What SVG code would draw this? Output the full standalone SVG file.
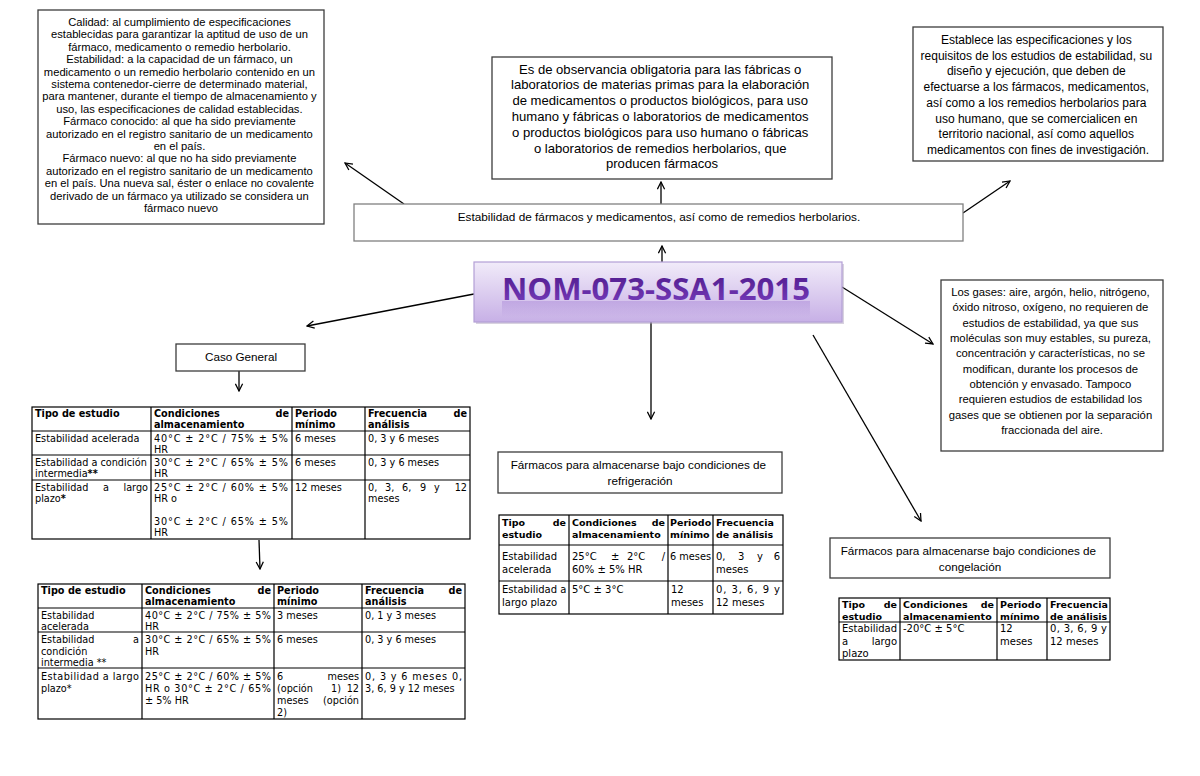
<svg xmlns="http://www.w3.org/2000/svg" width="1200" height="776" viewBox="0 0 1200 776">
<defs>
<style>
.bx{fill:#fff;stroke:#3c3c3c;stroke-width:1.3}
.t{font-family:"Liberation Sans",Arial,sans-serif;fill:#000;text-anchor:middle}
.tv{font-family:"DejaVu Sans",Verdana,sans-serif;font-size:9.7px;fill:#000}
.tw{font-family:"DejaVu Sans",Verdana,sans-serif;font-size:10px;fill:#000}
.b{font-weight:bold}
.h{font-weight:bold;font-size:9.5px}
.e{text-anchor:end}
.grid{stroke:#000;stroke-width:1.2;fill:none}
.cn{stroke:#000;stroke-width:1.3;fill:none;marker-end:url(#ah)}
</style>
<marker id="ah" viewBox="0 0 10 10" refX="9" refY="5" markerWidth="9" markerHeight="9" markerUnits="userSpaceOnUse" orient="auto">
<path d="M1,1 L9,5 L1,9" fill="none" stroke="#000" stroke-width="1.4"/>
</marker>
<linearGradient id="nomBg" x1="0" y1="0" x2="0" y2="1">
<stop offset="0" stop-color="#f1ebf9"/>
<stop offset="1" stop-color="#c7b0e6"/>
</linearGradient>
<linearGradient id="nomTx" x1="0" y1="0" x2="0" y2="1">
<stop offset="0" stop-color="#4a1685"/>
<stop offset="1" stop-color="#7a3fc0"/>
</linearGradient>
<linearGradient id="refl" x1="0" y1="0" x2="0" y2="1">
<stop offset="0" stop-color="#8a5cc8" stop-opacity="0.28"/>
<stop offset="1" stop-color="#8a5cc8" stop-opacity="0"/>
</linearGradient>
</defs>

<rect width="1200" height="776" fill="#fff"/>

<g id="connectors">
<path class="cn" d="M404,204 L345,163"/>
<path class="cn" d="M963,213 L1010,181"/>
<path class="cn" d="M662,262 L662,246"/>
<path class="cn" d="M661,204 L661,182"/>
<path class="cn" d="M474,294 L307,326"/>
<path class="cn" d="M842,287 L933,344"/>
<path class="cn" d="M813,335 L921,521"/>
<path class="cn" d="M651,322 L651,419"/>
<path class="cn" d="M239,371 L239,391"/>
<path class="cn" d="M259,540 L260,569"/>
</g>

<g id="definiciones">
<rect class="bx" x="38" y="10" width="286" height="214"/>
<text class="t" font-size="11.2">
<tspan x="181" y="26">Calidad: al cumplimiento de especificaciones</tspan>
<tspan x="181" y="38.4">establecidas para garantizar la aptitud de uso de un</tspan>
<tspan x="181" y="50.8">fármaco, medicamento o remedio herbolario.</tspan>
<tspan x="181" y="63.2">Estabilidad: a la capacidad de un fármaco, un</tspan>
<tspan x="181" y="75.6">medicamento o un remedio herbolario contenido en un</tspan>
<tspan x="181" y="88">sistema contenedor-cierre de determinado material,</tspan>
<tspan x="181" y="100.4">para mantener, durante el tiempo de almacenamiento y</tspan>
<tspan x="181" y="112.8">uso, las especificaciones de calidad establecidas.</tspan>
<tspan x="181" y="125.2">Fármaco conocido: al que ha sido previamente</tspan>
<tspan x="181" y="137.6">autorizado en el registro sanitario de un medicamento</tspan>
<tspan x="181" y="150">en el país.</tspan>
<tspan x="181" y="162.4">Fármaco nuevo: al que no ha sido previamente</tspan>
<tspan x="181" y="174.8">autorizado en el registro sanitario de un medicamento</tspan>
<tspan x="181" y="187.2">en el país. Una nueva sal, éster o enlace no covalente</tspan>
<tspan x="181" y="199.6">derivado de un fármaco ya utilizado se considera un</tspan>
<tspan x="181" y="212">fármaco nuevo</tspan>
</text>
</g>

<g id="observancia">
<rect class="bx" x="492" y="57" width="340" height="122"/>
<text class="t" font-size="13.1">
<tspan x="662" y="73.5">Es de observancia obligatoria para las fábricas o</tspan>
<tspan x="662" y="89.3">laboratorios de materias primas para la elaboración</tspan>
<tspan x="662" y="105.1">de medicamentos o productos biológicos, para uso</tspan>
<tspan x="662" y="120.9">humano y fábricas o laboratorios de medicamentos</tspan>
<tspan x="662" y="136.7">o productos biológicos para uso humano o fábricas</tspan>
<tspan x="662" y="152.5">o laboratorios de remedios herbolarios, que</tspan>
<tspan x="662" y="168.3">producen fármacos</tspan>
</text>
</g>

<g id="especificaciones">
<rect class="bx" x="913" y="27" width="250" height="134"/>
<text class="t" font-size="12">
<tspan x="1038" y="44">Establece las especificaciones y los</tspan>
<tspan x="1038" y="59.7">requisitos de los estudios de estabilidad, su</tspan>
<tspan x="1038" y="75.4">diseño y ejecución, que deben de</tspan>
<tspan x="1038" y="91.1">efectuarse a los fármacos, medicamentos,</tspan>
<tspan x="1038" y="106.8">así como a los remedios herbolarios para</tspan>
<tspan x="1038" y="122.5">uso humano, que se comercialicen en</tspan>
<tspan x="1038" y="138.2">territorio nacional, así como aquellos</tspan>
<tspan x="1038" y="153.9">medicamentos con fines de investigación.</tspan>
</text>
</g>

<g id="estabilidad">
<rect x="354" y="204" width="609" height="37" fill="#fff" stroke="#808080" stroke-width="1.3"/>
<text class="t" font-size="11.8" x="659" y="221">Estabilidad de fármacos y medicamentos, así como de remedios herbolarios.</text>
</g>

<g id="nom">
<rect x="476" y="264" width="368" height="60" fill="#a89cb8" opacity="0.45"/>
<rect x="474" y="262" width="368" height="60" fill="url(#nomBg)" stroke="#b39fd6" stroke-width="1.2"/>
<rect x="502" y="301" width="308" height="16" fill="url(#refl)"/>
<text x="656" y="300" font-family="'Open Sans','Noto Sans',sans-serif" font-weight="bold" font-size="31" fill="url(#nomTx)" text-anchor="middle" textLength="308" lengthAdjust="spacingAndGlyphs">NOM-073-SSA1-2015</text>
</g>

<g id="gases">
<rect class="bx" x="941" y="280" width="222" height="171"/>
<text class="t" font-size="11.3">
<tspan x="1052" y="296">Los gases: aire, argón, helio, nitrógeno,</tspan>
<tspan x="1052" y="311.3">óxido nitroso, oxígeno, no requieren de</tspan>
<tspan x="1052" y="326.7">estudios de estabilidad, ya que sus</tspan>
<tspan x="1052" y="342">moléculas son muy estables, su pureza,</tspan>
<tspan x="1052" y="357.3">concentración y características, no se</tspan>
<tspan x="1052" y="372.7">modifican, durante los procesos de</tspan>
<tspan x="1052" y="388">obtención y envasado. Tampoco</tspan>
<tspan x="1052" y="403.3">requieren estudios de estabilidad los</tspan>
<tspan x="1052" y="418.7">gases que se obtienen por la separación</tspan>
<tspan x="1052" y="434">fraccionada del aire.</tspan>
</text>
</g>

<g id="caso-general">
<rect class="bx" x="176" y="344" width="129" height="27"/>
<text class="t" font-size="11.7" x="241" y="361">Caso General</text>
</g>

<g id="tabla-general">
<rect class="grid" x="32" y="407" width="438" height="132"/>
<path class="grid" d="M151,407V539M292,407V539M365,407V539M32,431H470M32,455H470M32,480H470"/>
<g class="tv">
<text class="b" x="35" y="417">Tipo de estudio</text>
<text class="b" x="154" y="417">Condiciones</text><text class="b e" x="289" y="417">de</text>
<text class="b" x="154" y="428">almacenamiento</text>
<text class="b" x="295" y="417">Periodo</text>
<text class="b" x="295" y="428">mínimo</text>
<text class="b" x="368" y="417">Frecuencia</text><text class="b e" x="467" y="417">de</text>
<text class="b" x="368" y="428">análisis</text>

<text x="35" y="442">Estabilidad acelerada</text>
<text x="154" y="442" textLength="134" lengthAdjust="spacing">40°C ± 2°C / 75% ± 5%</text>
<text x="154" y="453">HR</text>
<text x="295" y="442">6 meses</text>
<text x="368" y="442">0, 3 y 6 meses</text>

<text x="35" y="466">Estabilidad a condición</text>
<text x="35" y="477">intermedia<tspan class="b">**</tspan></text>
<text x="154" y="466" textLength="134" lengthAdjust="spacing">30°C ± 2°C / 65% ± 5%</text>
<text x="154" y="477">HR</text>
<text x="295" y="466">6 meses</text>
<text x="368" y="466">0, 3 y 6 meses</text>

<text x="35" y="491">Estabilidad</text><text x="103" y="491">a</text><text class="e" x="148" y="491">largo</text>
<text x="35" y="502">plazo<tspan class="b">*</tspan></text>
<text x="154" y="491" textLength="134" lengthAdjust="spacing">25°C ± 2°C / 60% ± 5%</text>
<text x="154" y="502">HR o</text>
<text x="154" y="525" textLength="134" lengthAdjust="spacing">30°C ± 2°C / 65% ± 5%</text>
<text x="154" y="536">HR</text>
<text x="295" y="491">12 meses</text>
<text x="368" y="491">0,</text><text x="385" y="491">3,</text><text x="402" y="491">6,</text><text x="420" y="491">9</text><text x="434" y="491">y</text><text class="e" x="467" y="491">12</text>
<text x="368" y="502">meses</text>
</g>
</g>

<g id="tabla-general-2">
<rect class="grid" x="38" y="584" width="427" height="135"/>
<path class="grid" d="M142,584V719M274,584V719M362,584V719M38,608H465M38,632H465M38,668H465"/>
<g class="tv">
<text class="b" x="41" y="594">Tipo de estudio</text>
<text class="b" x="145" y="594">Condiciones</text><text class="b e" x="271" y="594">de</text>
<text class="b" x="145" y="605">almacenamiento</text>
<text class="b" x="277" y="594">Periodo</text>
<text class="b" x="277" y="605">mínimo</text>
<text class="b" x="365" y="594">Frecuencia</text><text class="b e" x="462" y="594">de</text>
<text class="b" x="365" y="605">análisis</text>

<text x="41" y="619">Estabilidad</text>
<text x="41" y="630">acelerada</text>
<text x="145" y="619" textLength="126" lengthAdjust="spacing">40°C ± 2°C / 75% ± 5%</text>
<text x="145" y="630">HR</text>
<text x="277" y="619">3 meses</text>
<text x="365" y="619">0, 1 y 3 meses</text>

<text x="41" y="643">Estabilidad</text><text class="e" x="139" y="643">a</text>
<text x="41" y="655">condición</text>
<text x="41" y="666">intermedia **</text>
<text x="145" y="643" textLength="126" lengthAdjust="spacing">30°C ± 2°C / 65% ± 5%</text>
<text x="145" y="655">HR</text>
<text x="277" y="643">6 meses</text>
<text x="365" y="643">0, 3 y 6 meses</text>

<text x="41" y="680" textLength="98" lengthAdjust="spacing">Estabilidad a largo</text>
<text x="41" y="692">plazo*</text>
<text x="145" y="680" textLength="126" lengthAdjust="spacing">25°C ± 2°C / 60% ± 5%</text>
<text x="145" y="692" textLength="126" lengthAdjust="spacing">HR o 30°C ± 2°C / 65%</text>
<text x="145" y="704">± 5% HR</text>
<text x="277" y="680">6</text><text class="e" x="359" y="680">meses</text>
<text x="277" y="692">(opción</text><text class="e" x="341" y="692">1)</text><text class="e" x="359" y="692">12</text>
<text x="277" y="704">meses</text><text class="e" x="359" y="704">(opción</text>
<text x="277" y="716">2)</text>
<text x="365" y="680" textLength="97" lengthAdjust="spacing">0, 3 y 6 meses 0,</text>
<text x="365" y="692">3, 6, 9 y 12 meses</text>
</g>
</g>

<g id="refrigeracion">
<rect class="bx" x="498" y="452" width="284" height="41"/>
<text class="t" font-size="11.7">
<tspan x="640" y="469">Fármacos para almacenarse bajo condiciones de</tspan>
<tspan x="640" y="485">refrigeración</tspan>
</text>
</g>

<g id="tabla-refrigeracion">
<rect class="grid" x="499" y="515" width="284" height="99"/>
<path class="grid" d="M569,515V614M668,515V614M713,515V614M499,545H783M499,581H783"/>
<g class="tw">
<text class="h" x="502" y="526">Tipo</text><text class="h e" x="566" y="526">de</text>
<text class="h" x="502" y="538">estudio</text>
<text class="h" x="572" y="526">Condiciones</text><text class="h e" x="665" y="526">de</text>
<text class="h" x="572" y="538">almacenamiento</text>
<text class="h" x="670" y="526">Periodo</text>
<text class="h" x="670" y="538">mínimo</text>
<text class="h" x="716" y="526">Frecuencia</text>
<text class="h" x="716" y="538">de análisis</text>

<text x="502" y="560">Estabilidad</text>
<text x="502" y="573">acelerada</text>
<text x="572" y="560">25°C</text><text x="611" y="560">±</text><text x="627" y="560">2°C</text><text class="e" x="665" y="560">/</text>
<text x="572" y="573">60% ± 5% HR</text>
<text x="670" y="560" textLength="41" lengthAdjust="spacingAndGlyphs">6 meses</text>
<text x="716" y="560">0,</text><text x="738" y="560">3</text><text x="757" y="560">y</text><text class="e" x="780" y="560">6</text>
<text x="716" y="573">meses</text>

<text x="502" y="593">Estabilidad a</text>
<text x="502" y="606">largo plazo</text>
<text x="572" y="593">5°C ± 3°C</text>
<text x="671" y="593">12</text>
<text x="671" y="606">meses</text>
<text x="716" y="593" textLength="64" lengthAdjust="spacing">0, 3, 6, 9 y</text>
<text x="716" y="606">12 meses</text>
</g>
</g>

<g id="congelacion">
<rect class="bx" x="830" y="538" width="280" height="40"/>
<text class="t" font-size="11.7">
<tspan x="970" y="555">Fármacos para almacenarse bajo condiciones de</tspan>
<tspan x="970" y="571">congelación</tspan>
</text>
</g>

<g id="tabla-congelacion">
<rect class="grid" x="839" y="598" width="271" height="62"/>
<path class="grid" d="M900,598V660M997,598V660M1047,598V660M839,622H1110"/>
<g class="tw">
<text class="h" x="842" y="608">Tipo</text><text class="h e" x="897" y="608">de</text>
<text class="h" x="842" y="620">estudio</text>
<text class="h" x="903" y="608">Condiciones</text><text class="h e" x="994" y="608">de</text>
<text class="h" x="903" y="620">almacenamiento</text>
<text class="h" x="1000" y="608">Periodo</text>
<text class="h" x="1000" y="620">mínimo</text>
<text class="h" x="1050" y="608">Frecuencia</text>
<text class="h" x="1050" y="620">de análisis</text>

<text x="842" y="632">Estabilidad</text>
<text x="842" y="645">a</text><text class="e" x="897" y="645">largo</text>
<text x="842" y="657">plazo</text>
<text x="903" y="632">-20°C ± 5°C</text>
<text x="1000" y="632">12</text>
<text x="1000" y="645">meses</text>
<text x="1050" y="632" textLength="57" lengthAdjust="spacing">0, 3, 6, 9 y</text>
<text x="1050" y="645">12 meses</text>
</g>
</g>
</svg>
